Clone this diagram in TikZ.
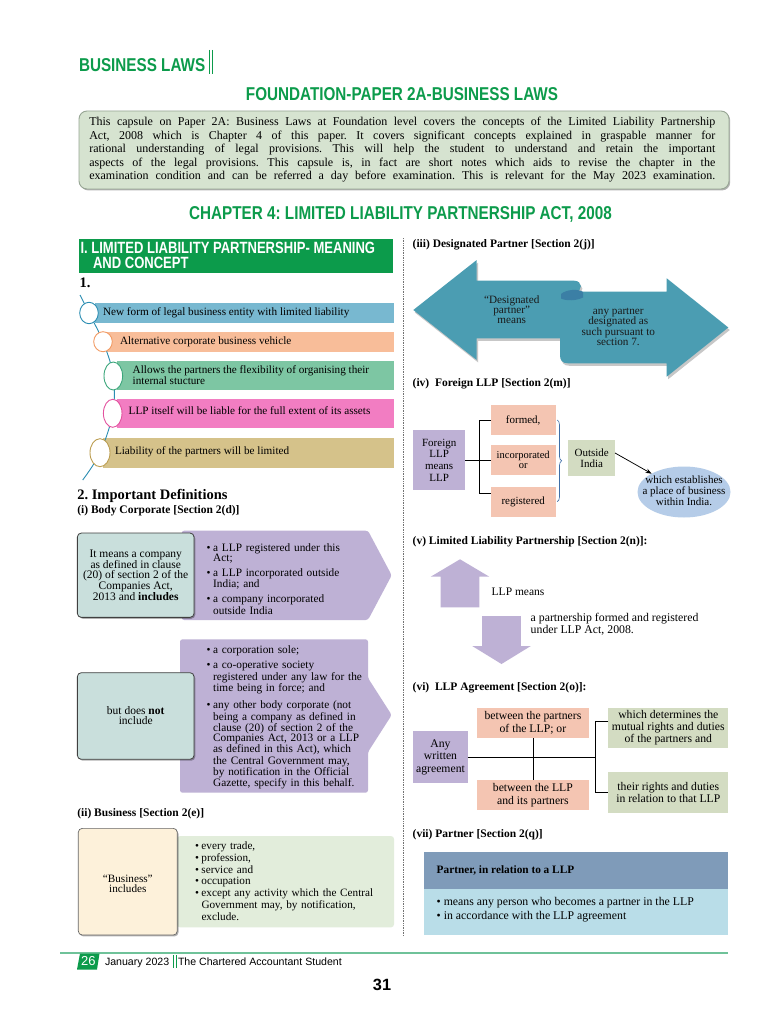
\documentclass[tikz,border=0pt]{standalone}
\usepackage{fontspec}
\setmainfont{Liberation Serif}
\setsansfont{Liberation Sans}
\newfontfamily\headfont[FakeStretch=0.82]{Liberation Sans}
\newfontfamily\barfont[FakeStretch=0.8]{Liberation Sans}
\usetikzlibrary{decorations.pathreplacing,arrows.meta,shapes.geometric,shadows}
\definecolor{hgreen}{HTML}{0C9B4B}
\definecolor{capfill}{HTML}{D6E3D0}
\definecolor{capline}{HTML}{97A594}
\definecolor{bblue}{HTML}{78B8D0}
\definecolor{bpeach}{HTML}{F8BD99}
\definecolor{bgreen}{HTML}{7DC6A3}
\definecolor{bpink}{HTML}{F27DC2}
\definecolor{btan}{HTML}{D5C28A}
\definecolor{cblue}{HTML}{2A8DB2}
\definecolor{corange}{HTML}{F29A63}
\definecolor{cgreen}{HTML}{3BA67B}
\definecolor{cpink}{HTML}{E3529F}
\definecolor{ctan}{HTML}{BC9E52}
\definecolor{tealbox}{HTML}{C9DFDC}
\definecolor{purp}{HTML}{BEB1D5}
\definecolor{cream}{HTML}{FDF1DA}
\definecolor{lgreen}{HTML}{E2EDDB}
\definecolor{arrteal}{HTML}{4B9DB2}
\definecolor{scrollc}{HTML}{3B7FA5}
\definecolor{peach}{HTML}{F4C5B2}
\definecolor{sage}{HTML}{D3DCC2}
\definecolor{ellblue}{HTML}{B5CCE8}
\definecolor{phead}{HTML}{7F9BB9}
\definecolor{pbody}{HTML}{B9DDE8}
\definecolor{footgreen}{HTML}{6FC299}
\definecolor{bracecol}{HTML}{3F6FA8}
\newcommand\fs[2]{\fontsize{#1}{#2}\selectfont}
\newcommand\bitem[1]{\par\noindent\hangindent=6.5pt\hangafter=1\makebox[6.5pt][l]{\textbullet}#1\par}
\frenchspacing
\begin{document}
\frenchspacing
\begin{tikzpicture}[x=1pt,y=-1pt,
  every node/.style={inner sep=0pt, outer sep=0pt},
  head/.style={font=\headfont\bfseries\fs{18.6}{20}, text=hgreen},
  sub/.style={font=\bfseries\fs{11.5}{13}, anchor=base west},
  rbox/.style 2 args={rectangle, minimum width=#1pt, minimum height=#2pt},
  conn/.style={draw=black, line width=0.75pt},
  shade/.style={drop shadow={shadow xshift=1.2pt, shadow yshift=-1.4pt, opacity=0.3, fill=black}},
  ring/.style={ellipse, fill=white, line width=0.9pt},
  btext/.style={anchor=west, align=left, text width=200pt},
]
\fill[white] (0,0) rectangle (768,1024);
\useasboundingbox (0,0) rectangle (768,1024);

% ---------- header ----------
\node[head, anchor=base west] (bl) at (79,72) {BUSINESS LAWS};
\draw[hgreen, line width=0.7pt] (209.3,50) -- (209.3,74) (212.3,50) -- (212.3,74);
\node[head, anchor=base] (fp) at (402,101) {FOUNDATION-PAPER 2A-BUSINESS LAWS};

\node[rbox={650}{78}, rounded corners=8pt, fill=capfill, draw=capline, line width=0.9pt, shade] (cap) at (404,150) {};
\node[text width=626pt, align=justify, font=\fs{12}{13.5}] (captxt) at (402.3,149.8) {\frenchspacing\tolerance=10000\parfillskip=0pt\noindent This capsule on Paper 2A: Business Laws at Foundation level covers the concepts of the Limited Liability Partnership\linebreak Act, 2008 which is Chapter 4 of this paper. It covers significant concepts explained in graspable manner for\linebreak rational understanding of legal provisions. This will help the student to understand and retain the important\linebreak aspects of the legal provisions. This capsule is, in fact are short notes which aids to revise the chapter in the\linebreak examination condition and can be referred a day before examination. This is relevant for the May 2023 examination.\par};

\node[head, anchor=base] (ch) at (400.5,220) {CHAPTER 4: LIMITED LIABILITY PARTNERSHIP ACT, 2008};

% divider
\draw[black!55, line width=0.6pt, dash pattern=on 0.8pt off 0.9pt] (403,238) -- (403,936);

% ---------- left column ----------
\node[rbox={314}{34}, fill=hgreen, anchor=north west] (sbar) at (79,239) {};
\node[font=\barfont\bfseries\fs{16.3}{17}, text=white, anchor=base west] (s1) at (80.5,253) {I. LIMITED LIABILITY PARTNERSHIP- MEANING};
\node[font=\barfont\bfseries\fs{16.3}{17}, text=white, anchor=base west] (s2) at (93,268.5) {AND CONCEPT};
\node[font=\bfseries\fs{14.5}{16}, anchor=base west] (one) at (79.5,287) {1.};

\node[rbox={299}{20.6}, fill=bblue] (b1) at (244.5,313) {};
\node[rbox={287}{20}, fill=bpeach] (b2) at (250.5,341.7) {};
\node[rbox={277}{29.3}, fill=bgreen] (b3) at (255.5,375.4) {};
\node[rbox={277}{29}, fill=bpink] (b4) at (255.5,413.8) {};
\node[rbox={291}{30}, fill=btan] (b5) at (248.5,453) {};

\coordinate (ltop) at (80,295);
\coordinate (k1) at (89,313);
\coordinate (k2) at (103,341.7);
\coordinate (k3) at (113.3,376);
\coordinate (k4) at (112.7,413.3);
\coordinate (k5) at (100,452.7);
\coordinate (lbot) at (82.7,480);
\draw[cblue, line width=0.9pt] plot[smooth, tension=0.6] coordinates {(ltop) (k1) (k2) (k3) (k4) (k5) (lbot)};
\node[ring, draw=cblue, minimum width=18.6pt, minimum height=21.4pt] (c1) at (k1) {};
\node[ring, draw=corange, minimum width=18.6pt, minimum height=20pt] (c2) at (k2) {};
\node[ring, draw=cgreen, minimum width=18.6pt, minimum height=28pt] (c3) at (k3) {};
\node[ring, draw=cpink, minimum width=18.6pt, minimum height=28pt] (c4) at (k4) {};
\node[ring, draw=ctan, minimum width=20pt, minimum height=28pt] (c5) at (k5) {};

\node[anchor=west, font=\fs{11.2}{10.5}] (l1) at (103,313) {New form of legal business entity with limited liability};
\node[anchor=west, font=\fs{11.2}{10.5}] (l2) at (120,341.5) {Alternative corporate business vehicle};
\node[anchor=west, align=left, font=\fs{11.2}{10.5}] (l3) at (132.7,375) {Allows the partners the flexibility of organising their\\internal stucture};
\node[anchor=west, font=\fs{11.2}{10.5}] (l4) at (128.7,411) {LLP itself will be liable for the full extent of its assets};
\node[anchor=west, font=\fs{11.2}{10.5}] (l5) at (115,452) {Liability of the partners will be limited};

\node[font=\bfseries\fs{14.5}{16}, anchor=base west] (two) at (77.3,499.5) {2. Important Definitions};
\node[sub] (h1) at (77.3,513.5) {(i) Body Corporate [Section 2(d)]};

\fill[purp, rounded corners=2.5pt] (181.7,530.7) -- (368,530.7) -- (391.7,575.3) -- (368,620) -- (181.7,620) -- cycle;
\node[rbox={116.7}{84.3}, rounded corners=4pt, fill=tealbox, draw=black!75, line width=0.8pt, shade, align=center, font=\fs{11.5}{10.9}] (t1) at (135.7,575.2) {It means a company\\as defined in clause\\(20) of section 2 of the\\Companies Act,\\2013 and \textbf{includes}};
\node[btext, font=\fs{11.3}{10}] (p1) at (206.7,575.3) {\setlength{\parskip}{5pt}%
\bitem{a LLP registered under this\newline Act;}%
\bitem{a LLP incorporated outside\newline India; and}%
\bitem{a company incorporated\newline outside India}};

\fill[purp, rounded corners=2.5pt] (180,639.3) -- (368,639.3) -- (368,678) -- (391.7,715) -- (368,752) -- (368,792.7) -- (180,792.7) -- cycle;
\node[rbox={116.7}{86.6}, rounded corners=4pt, fill=tealbox, draw=black!75, line width=0.8pt, shade, align=center, font=\fs{11.5}{10}] (t2) at (135.7,716) {but does \textbf{not}\\include};
\node[btext, font=\fs{11.3}{10}] (p2) at (206.7,713.3) {\setlength{\parskip}{5.8pt}%
\bitem{a corporation sole;}%
\bitem{a co-operative society\newline registered under any law for the\newline time being in force; and}%
\bitem{any other body corporate (not\newline being a company as defined in\newline clause (20) of section 2 of the\newline Companies Act, 2013 or a LLP\newline as defined in this Act), which\newline the Central Government may,\newline by notification in the Official\newline Gazette, specify in this behalf.}};

\node[sub] (h2) at (77.3,816.5) {(ii) Business [Section 2(e)]};
\node[rbox={217}{91.3}, rounded corners=3pt, fill=lgreen] (bg) at (285.5,881.7) {};
\node[rbox={99}{106.7}, rounded corners=4pt, fill=cream, draw=black!60, line width=0.7pt, shade] (bc) at (127.8,881.7) {};
\node[align=center, font=\fs{11.2}{10}] (bct) at (127.8,884) {“Business”\\includes};
\node[btext, font=\fs{11.2}{11.7}] (bb) at (195,879.2) {%
\bitem{every trade,}%
\bitem{profession,}%
\bitem{service and}%
\bitem{occupation}%
\bitem{except any activity which the Central\newline Government may, by notification,\newline exclude.}};

% ---------- right column ----------
\node[sub] (h3) at (412.7,247.5) {(iii) Designated Partner [Section 2(j)]};
\begin{scope}[shift={(1.5pt,-2.5pt)}]
\fill[black!22] (413.3,310) -- (476.7,260) -- (476.7,280.7) -- (574,280.7) .. controls (583,280.7) and (583,291.5) .. (575,292) -- (575,338.3) -- (476.7,338.3) -- (476.7,360) -- cycle;
\fill[black!22] (560,296) .. controls (560,293) and (562,291.7) .. (566,291.7) -- (666.7,291.7) -- (666.7,278.3) -- (728.3,327.5) -- (666.7,376.7) -- (666.7,363.3) -- (568,363.3) .. controls (562,363.3) and (560,360) .. (560,355) -- cycle;
\end{scope}
\fill[arrteal] (413.3,310) -- (476.7,260) -- (476.7,280.7) -- (574,280.7) .. controls (583,280.7) and (583,291.5) .. (575,292) -- (575,338.3) -- (476.7,338.3) -- (476.7,360) -- cycle;
\fill[arrteal] (560,296) .. controls (560,293) and (562,291.7) .. (566,291.7) -- (666.7,291.7) -- (666.7,278.3) -- (728.3,327.5) -- (666.7,376.7) -- (666.7,363.3) -- (568,363.3) .. controls (562,363.3) and (560,360) .. (560,355) -- cycle;
\fill[scrollc] (561,294) .. controls (566,289.5) and (578,288.5) .. (583,292) -- (583,297.5) .. controls (576,301) and (566,301) .. (561,298.5) -- cycle;
\node[align=center, font=\fs{11.2}{10}, text=black!90] (dt1) at (511.7,309.7) {“Designated\\partner”\\means};
\node[align=center, font=\fs{11.2}{10.2}, text=black!90] (dt2) at (618.3,327) {any partner\\designated as\\such pursuant to\\section 7.};

\node[sub] (h4) at (412.7,386.5) {(iv)\ \ Foreign LLP [Section 2(m)]};
\node[rbox={51.7}{60.7}, fill=purp, align=center, font=\fs{11}{11.7}] (fl) at (439.2,460) {Foreign\\LLP\\means\\LLP};
\node[rbox={65}{30}, fill=peach, font=\fs{11}{11}] (f1) at (523.2,420) {formed,};
\node[rbox={65}{30}, fill=peach, align=center, font=\fs{10.5}{9.8}] (f2) at (523.2,460) {incorporated\\or};
\node[rbox={65}{30}, fill=peach, font=\fs{11}{11}] (f3) at (523.2,501.7) {registered};
\coordinate (fj) at (479.3,460);
\draw[conn] (fl.east) -- (fj);
\draw[conn] (f1.west) -| (fj);
\draw[conn] (f2.west) -- (fj);
\draw[conn] ([yshift=8pt]f3.west) -| (fj);
\draw[bracecol, line width=0.6pt, decorate, decoration={brace, amplitude=4.5pt}] ([xshift=1.5pt]f1.east) -- ([xshift=1.5pt]f3.east);
\node[rbox={46.7}{36}, fill=sage, align=center, font=\fs{11}{10.7}] (oi) at (591.7,458) {Outside\\India};
\node[ellipse, fill=ellblue, minimum width=93pt, minimum height=51pt] (el) at (684,492) {};
\node[align=center, font=\fs{11}{11}] (elt) at (684,490.5) {which establishes\\a place of business\\within India.};
\draw[conn, -{Stealth[length=6pt,width=4.5pt]}] ([yshift=5pt]oi.east) -- (el);

\node[sub] (h5) at (412.7,544.5) {(v) Limited Liability Partnership [Section 2(n)]:};
\fill[purp] (460,559.3) -- (489.3,576.7) -- (479.3,576.7) -- (479.3,607.3) -- (440.7,607.3) -- (440.7,576.7) -- (430.7,576.7) -- cycle;
\fill[purp] (482.2,616) -- (520.8,616) -- (520.8,646) -- (530.8,646) -- (501.5,664) -- (472.2,646) -- (482.2,646) -- cycle;
\node[anchor=west, font=\fs{11.5}{12}] (lm) at (491.7,591.7) {LLP means};
\node[anchor=west, align=left, font=\fs{11.8}{10}] (pf) at (530.7,624) {a partnership formed and registered\\under LLP Act, 2008.};

\node[sub] (h6) at (412.7,690.5) {(vi)\ \ LLP Agreement [Section 2(o)]:};
\node[rbox={54.4}{52.3}, fill=purp, align=center, font=\fs{11.7}{12.3}] (aw) at (440.5,757.2) {Any\\written\\agreement};
\node[rbox={112.3}{30.6}, fill=peach, align=center, font=\fs{11.7}{13}] (q1) at (532.9,723) {between the partners\\of the LLP; or};
\node[rbox={112.3}{30}, fill=peach, align=center, font=\fs{11.7}{12.4}] (q2) at (532.9,795) {between the LLP\\and its partners};
\node[rbox={120}{40}, fill=sage, align=center, font=\fs{11.7}{12}] (g1) at (668.3,727.7) {which determines the\\mutual rights and duties\\of the partners and};
\node[rbox={120}{41}, fill=sage, align=center, font=\fs{11.7}{11.7}] (g2) at (668.3,792.2) {their rights and duties\\in relation to that LLP};
\coordinate (aj) at (595,757.2);
\draw[conn] (aw.east) -- (aj);
\draw[conn] ([yshift=6pt]g1.west) -| (aj) |- (g2.west);
\draw[conn] (q1.south) -- (q2.north);

\node[sub] (h7) at (412.7,837) {(vii) Partner [Section 2(q)]};
\node[rbox={304.3}{37}, fill=phead] (ph) at (576.2,870.8) {};
\node[rbox={304.3}{45.7}, fill=pbody] (pb) at (576.2,912.2) {};
\node[anchor=west, font=\bfseries\fs{11.3}{13}] (pht) at (436.7,870.7) {Partner, in relation to a LLP};
\node[anchor=west, align=left, font=\fs{11.8}{14}] (pbt) at (436.7,909.7) {\textbullet\ means any person who becomes a partner in the LLP\\\textbullet\ in accordance with the LLP agreement};

% ---------- footer ----------
\draw[footgreen, line width=1.6pt] (60,952.7) -- (728,952.7);
\fill[hgreen] (80,953.5) -- (99.5,953.5) -- (97,969.5) -- (77,969.5) -- cycle;
\node[text=white, font=\sffamily\fs{13}{13}] (pg) at (88.3,961.5) {26};
\node[font=\sffamily\fs{10.6}{12}, anchor=base west] (jan) at (105,965) {January 2023};
\draw[hgreen, line width=0.6pt] (173.6,955) -- (173.6,968) (175.9,955) -- (175.9,968);
\node[font=\sffamily\fs{10.6}{12}, anchor=base west] (cas) at (178,965) {The Chartered Accountant Student};
\node[font=\sffamily\bfseries\fs{16.3}{18}, anchor=base] (pn) at (382,990) {31};
\end{tikzpicture}
\end{document}
